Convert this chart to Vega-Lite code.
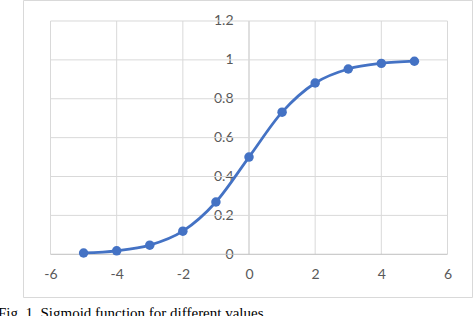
{
  "$schema": "https://vega.github.io/schema/vega-lite/v6.json",
  "width": 449,
  "height": 297,
  "autosize": {"type": "none"},
  "padding": {"left": 23, "top": 0, "right": 2, "bottom": 19},
  "background": "white",
  "title": {
    "text": "Fig. 1. Sigmoid function for different values",
    "orient": "bottom",
    "anchor": "start",
    "font": "Liberation Serif",
    "fontSize": 15,
    "fontWeight": "normal",
    "color": "#000000",
    "dx": -25,
    "offset": 9
  },
  "config": {
    "view": {"stroke": "#d9d9d9", "strokeWidth": 1},
    "axis": {
      "labelFont": "Lato",
      "labelFontSize": 14,
      "labelColor": "#595959",
      "grid": false,
      "ticks": false,
      "domain": false,
      "title": null
    }
  },
  "datasets": {
    "points": [
      {"x": -5, "y": 0.0067},
      {"x": -4, "y": 0.018},
      {"x": -3, "y": 0.047},
      {"x": -2, "y": 0.119},
      {"x": -1, "y": 0.269},
      {"x": 0, "y": 0.5},
      {"x": 1, "y": 0.731},
      {"x": 2, "y": 0.881},
      {"x": 3, "y": 0.953},
      {"x": 4, "y": 0.982},
      {"x": 5, "y": 0.993}
    ],
    "vgrid": [
      {"gx": -6, "axisline": false},
      {"gx": -4, "axisline": false},
      {"gx": -2, "axisline": false},
      {"gx": 0, "axisline": true},
      {"gx": 2, "axisline": false},
      {"gx": 4, "axisline": false},
      {"gx": 6, "axisline": false}
    ],
    "hgrid": [
      {"gy": 0, "axisline": true},
      {"gy": 0.2, "axisline": false},
      {"gy": 0.4, "axisline": false},
      {"gy": 0.6, "axisline": false},
      {"gy": 0.8, "axisline": false},
      {"gy": 1.0, "axisline": false},
      {"gy": 1.2, "axisline": false}
    ]
  },
  "layer": [
    {
      "data": {"name": "vgrid"},
      "mark": {"type": "rule", "strokeWidth": 1},
      "encoding": {
        "x": {
          "field": "gx",
          "type": "quantitative",
          "scale": {"domain": [-6.832, 6.741], "nice": false, "zero": false},
          "axis": {
            "values": [-6, -4, -2, 0, 2, 4, 6],
            "orient": "bottom",
            "offset": -43,
            "labelPadding": 13,
            "labelExpr": "datum.value + ''"
          }
        },
        "y": {
          "datum": 0,
          "type": "quantitative",
          "scale": {"domain": [-0.2197, 1.308], "nice": false, "zero": false},
          "axis": {
            "values": [0, 0.2, 0.4, 0.6, 0.8, 1, 1.2],
            "orient": "left",
            "offset": -226,
            "labelPadding": 16,
            "format": "~g"
          }
        },
        "y2": {"datum": 1.2},
        "color": {
          "field": "axisline",
          "type": "nominal",
          "scale": {"domain": [false, true], "range": ["#d9d9d9", "#bfbfbf"]},
          "legend": null
        }
      }
    },
    {
      "data": {"name": "hgrid"},
      "mark": {"type": "rule", "strokeWidth": 1},
      "encoding": {
        "y": {"field": "gy", "type": "quantitative"},
        "x": {"datum": -6, "type": "quantitative"},
        "x2": {"datum": 6},
        "color": {
          "field": "axisline",
          "type": "nominal",
          "legend": null
        }
      }
    },
    {
      "data": {"name": "points"},
      "mark": {"type": "line", "interpolate": "cardinal", "color": "#4472C4", "strokeWidth": 2.75},
      "encoding": {
        "x": {"field": "x", "type": "quantitative"},
        "y": {"field": "y", "type": "quantitative"}
      }
    },
    {
      "data": {"name": "points"},
      "mark": {"type": "circle", "color": "#4472C4", "opacity": 1, "size": 90},
      "encoding": {
        "x": {"field": "x", "type": "quantitative"},
        "y": {"field": "y", "type": "quantitative"}
      }
    }
  ]
}
